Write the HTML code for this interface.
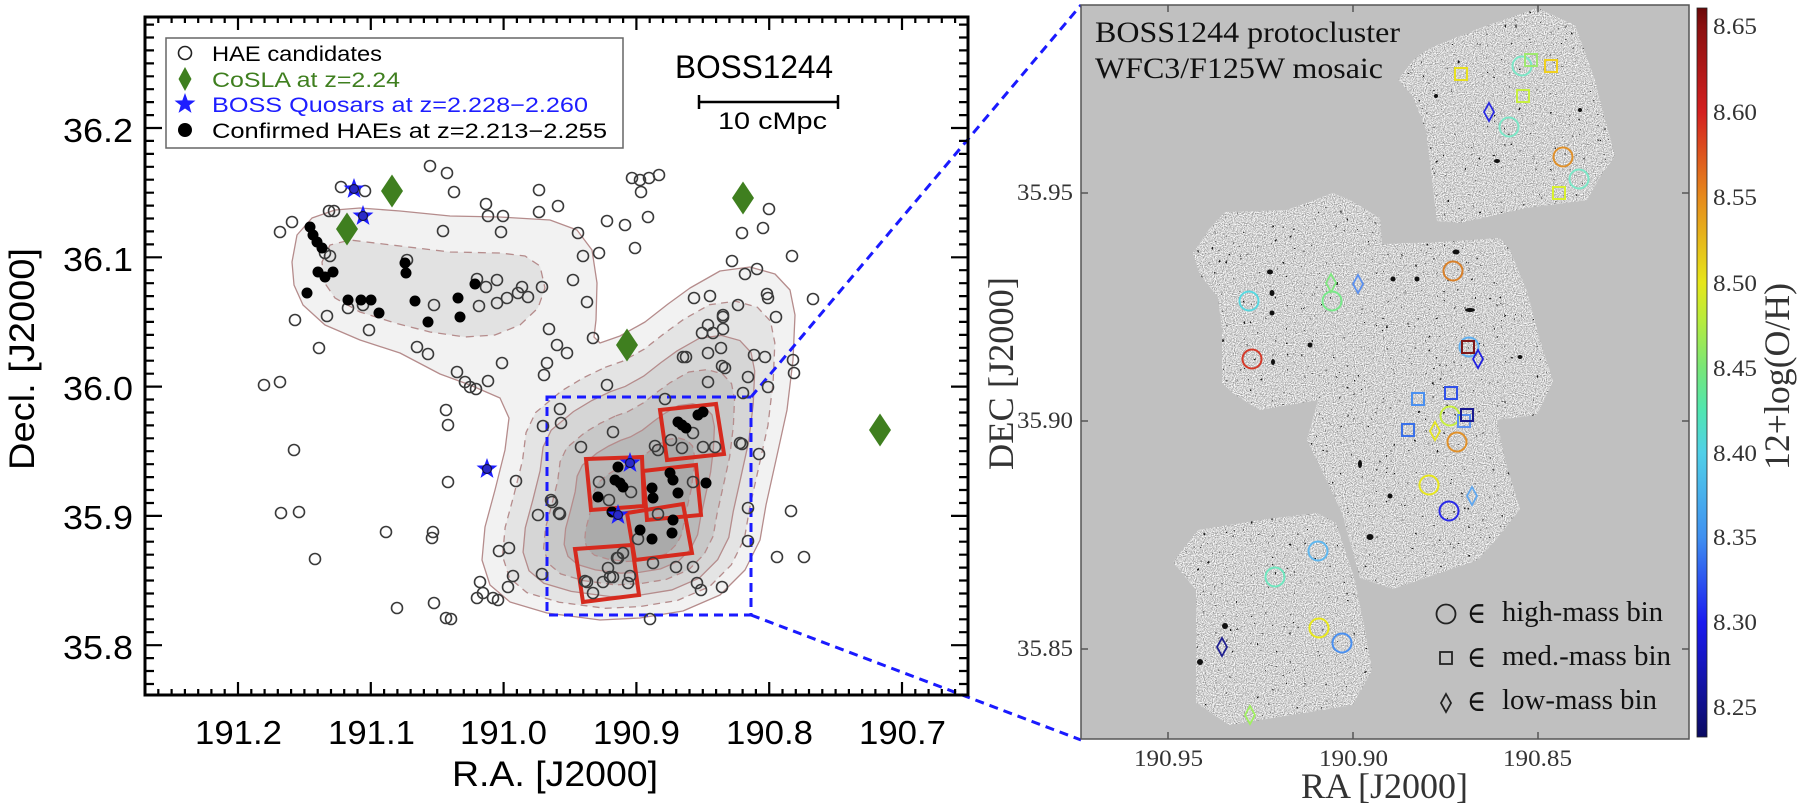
<!DOCTYPE html>
<html><head><meta charset="utf-8"><style>html,body{margin:0;padding:0;background:#fff}svg{display:block}</style></head>
<body>
<svg width="1800" height="811" viewBox="0 0 1800 811" xmlns="http://www.w3.org/2000/svg">
<defs>
<path id="rl" d="M600,343 L620,336 L645,322 L668,304 L690,288 L720,271 L750,267 L775,274 L790,290 L795,315 L793,360 L787,410 L776,460 L766,505 L760,540 L745,570 L720,595 L683,611 L640,618 L600,620 L547,613 L510,602 L490,585 L482,560 L485,527 L495,490 L505,450 L509,418 L520,395 L550,370 L575,355 Z"/>
<path id="star" d="M0,-11 L2.65,-3.64 L10.46,-3.4 L4.28,1.39 L6.47,8.9 L0,4.5 L-6.47,8.9 L-4.28,1.39 L-10.46,-3.4 L-2.65,-3.64Z"/>
<path id="gd" d="M0,-16.5 L11,0 L0,16.5 L-11,0Z"/>
<path id="bt" d="M158.3 695v-6M171.6 695v-6M184.9 695v-6M198.2 695v-6M211.4 695v-6M224.7 695v-6M238 695v-13M251.3 695v-6M264.6 695v-6M277.8 695v-6M291.1 695v-6M304.4 695v-6M317.7 695v-6M331 695v-6M344.2 695v-6M357.5 695v-6M370.8 695v-13M384.1 695v-6M397.4 695v-6M410.6 695v-6M423.9 695v-6M437.2 695v-6M450.5 695v-6M463.8 695v-6M477 695v-6M490.3 695v-6M503.6 695v-13M516.9 695v-6M530.2 695v-6M543.4 695v-6M556.7 695v-6M570 695v-6M583.3 695v-6M596.6 695v-6M609.8 695v-6M623.1 695v-6M636.4 695v-13M649.7 695v-6M663 695v-6M676.2 695v-6M689.5 695v-6M702.8 695v-6M716.1 695v-6M729.4 695v-6M742.6 695v-6M755.9 695v-6M769.2 695v-13M782.5 695v-6M795.8 695v-6M809 695v-6M822.3 695v-6M835.6 695v-6M848.9 695v-6M862.2 695v-6M875.4 695v-6M888.7 695v-6M902 695v-13M915.3 695v-6M928.6 695v-6M941.8 695v-6M955.1 695v-6"/>
<path id="lt" d="M145 24.6h9M145 37.5h9M145 50.4h9M145 63.4h9M145 76.3h9M145 89.2h9M145 102.1h9M145 115.1h9M145 128h17M145 140.9h9M145 153.9h9M145 166.8h9M145 179.7h9M145 192.7h9M145 205.6h9M145 218.5h9M145 231.4h9M145 244.4h9M145 257.3h17M145 270.2h9M145 283.2h9M145 296.1h9M145 309h9M145 321.9h9M145 334.9h9M145 347.8h9M145 360.7h9M145 373.7h9M145 386.6h17M145 399.5h9M145 412.5h9M145 425.4h9M145 438.3h9M145 451.2h9M145 464.2h9M145 477.1h9M145 490h9M145 503h9M145 515.9h17M145 528.8h9M145 541.7h9M145 554.7h9M145 567.6h9M145 580.5h9M145 593.5h9M145 606.4h9M145 619.3h9M145 632.2h9M145 645.2h17M145 658.1h9M145 671h9M145 684h9"/>
<linearGradient id="cb" x1="0" y1="0" x2="0" y2="1">
<stop offset="0" stop-color="#6a0808"/>
<stop offset="0.025" stop-color="#8a1010"/>
<stop offset="0.143" stop-color="#d42020"/>
<stop offset="0.259" stop-color="#e68a1c"/>
<stop offset="0.377" stop-color="#e6e61a"/>
<stop offset="0.428" stop-color="#b8ec3c"/>
<stop offset="0.494" stop-color="#78e678"/>
<stop offset="0.552" stop-color="#50e6b0"/>
<stop offset="0.610" stop-color="#50d0e8"/>
<stop offset="0.726" stop-color="#4090f0"/>
<stop offset="0.843" stop-color="#1a1aef"/>
<stop offset="0.959" stop-color="#10108a"/>
<stop offset="1" stop-color="#0a0a60"/>
</linearGradient>
<clipPath id="tiles">
<polygon points="1398,80 1415,58 1430,48 1475,30 1537,8 1575,25 1595,80 1608,130 1615,156 1600,177 1587,200 1527,208 1460,223 1437,221 1432,180 1426,130 1412,95"/>
<polygon points="1193,253 1210,228 1225,212 1287,210 1333,193 1350,200 1380,218 1382,244 1440,242 1500,238 1510,250 1527,291 1540,340 1553,381 1537,415 1497,420 1505,460 1520,509 1500,535 1478,560 1393,589 1360,578 1342,513 1307,440 1318,400 1260,410 1235,395 1222,383 1222,330 1218,297 1200,275"/>
<polygon points="1173,562 1198,530 1260,520 1317,513 1336,523 1355,580 1365,630 1372,670 1353,705 1229,725 1196,703 1196,590"/>
</clipPath>
<filter id="mos" filterUnits="userSpaceOnUse" x="1160" y="0" width="470" height="740" color-interpolation-filters="sRGB">
<feTurbulence type="fractalNoise" baseFrequency="0.9" numOctaves="1" seed="2" result="n1"/>
<feColorMatrix in="n1" type="matrix" values="1.0 0 0 0 0.32  1.0 0 0 0 0.32  1.0 0 0 0 0.32  0 0 0 0 1" result="g"/>
<feTurbulence type="fractalNoise" baseFrequency="0.28" numOctaves="2" seed="9" result="n2"/>
<feColorMatrix in="n2" type="matrix" values="0 0 0 0 0.1  0 0 0 0 0.1  0 0 0 0 0.1  35 0 0 0 -26.6" result="spots"/>
<feComposite in="spots" in2="g" operator="over"/>
</filter>
</defs>

<rect width="1800" height="811" fill="#fff"/>

<!-- ===== LEFT PANEL ===== -->
<path d="M292,262 L297,235 L312,218 L335,210 L360,208 L400,211 L450,216 L500,217 L550,220 L577,230 L592,250 L597,283 L596,320 L594,337 L600,343 L620,336 L645,322 L668,304 L690,288 L720,271 L750,267 L775,274 L790,290 L795,315 L793,360 L787,410 L776,460 L766,505 L760,540 L745,570 L720,595 L683,611 L640,618 L600,620 L547,613 L510,602 L490,585 L482,560 L485,527 L495,490 L505,450 L509,418 L500,398 L470,385 L440,374 L400,353 L360,340 L325,325 L303,305 L294,285 Z" fill="#f2f2f2" stroke="#b58c8c" stroke-width="1.3" stroke-linejoin="round"/>
<path d="M322,262 L330,245 L350,240 L400,246 L450,252 L500,253 L525,256 L540,266 L545,288 L538,308 L520,325 L495,335 L465,337 L430,332 L395,323 L360,312 L335,298 L324,282 Z" fill="#e2e2e2" stroke="#b58c8c" stroke-width="1.3" stroke-dasharray="8 6"/>
<use href="#rl" transform="translate(640 530) scale(0.87) translate(-640 -530)" fill="#e4e4e4" stroke="#b58c8c" stroke-width="1.5" stroke-dasharray="8 6"/>
<use href="#rl" transform="translate(640 530) scale(0.74) translate(-640 -530)" fill="#d6d6d6" stroke="#b58c8c" stroke-width="1.76"/>
<use href="#rl" transform="translate(640 530) scale(0.61) translate(-640 -530)" fill="#c8c8c8" stroke="#b58c8c" stroke-width="2.13" stroke-dasharray="11.5 8.2"/>
<use href="#rl" transform="translate(640 530) scale(0.48) translate(-640 -530)" fill="#b9b9b9" stroke="#b58c8c" stroke-width="2.71"/>
<use href="#rl" transform="translate(640 530) scale(0.35) translate(-640 -530)" fill="#aaaaaa" stroke="#b58c8c" stroke-width="3.7" stroke-dasharray="20 14"/>

<g fill="none" stroke="#1a1aff" stroke-width="3" stroke-dasharray="9 6">
<rect x="547" y="397" width="204" height="218"/>
<path d="M751,397 L1081,5"/>
<path d="M751,615 L1081,740"/>
</g>

<g fill="none" stroke="#d62a1e" stroke-width="4">
<polygon points="660,410 716,404 724,454 667,460"/>
<polygon points="586,459 642,457 644,506 591,510"/>
<polygon points="643,471 696,465 701,515 647,520"/>
<polygon points="627,513 683,504 692,553 635,560"/>
<polygon points="575,549 632,545 639,595 583,602"/>
</g>

<g fill="none" stroke="#3a3a3a" stroke-width="1.6">
<circle cx="430" cy="166" r="5.5"/><circle cx="447" cy="173" r="5.5"/><circle cx="341" cy="187" r="5.5"/><circle cx="365" cy="191" r="5.5"/><circle cx="329" cy="211" r="5.5"/><circle cx="334" cy="211" r="5.5"/><circle cx="280" cy="232" r="5.5"/><circle cx="292" cy="222" r="5.5"/><circle cx="443" cy="231" r="5.5"/><circle cx="325" cy="253" r="5.5"/><circle cx="330" cy="256" r="5.5"/><circle cx="407" cy="260" r="5.5"/>
<circle cx="454" cy="192" r="5.5"/><circle cx="539" cy="190" r="5.5"/><circle cx="558" cy="206" r="5.5"/><circle cx="539" cy="212" r="5.5"/><circle cx="486" cy="204" r="5.5"/><circle cx="488" cy="216" r="5.5"/><circle cx="503" cy="216" r="5.5"/><circle cx="501" cy="232" r="5.5"/><circle cx="632" cy="178" r="5.5"/><circle cx="640" cy="180" r="5.5"/><circle cx="649" cy="178" r="5.5"/><circle cx="659" cy="175" r="5.5"/><circle cx="641" cy="192" r="5.5"/><circle cx="607" cy="221" r="5.5"/><circle cx="625" cy="225" r="5.5"/><circle cx="648" cy="217" r="5.5"/><circle cx="578" cy="233" r="5.5"/><circle cx="583" cy="256" r="5.5"/><circle cx="599" cy="253" r="5.5"/><circle cx="635" cy="248" r="5.5"/><circle cx="769" cy="209" r="5.5"/><circle cx="742" cy="233" r="5.5"/><circle cx="763" cy="228" r="5.5"/><circle cx="792" cy="256" r="5.5"/><circle cx="732" cy="261" r="5.5"/><circle cx="745" cy="274" r="5.5"/><circle cx="757" cy="269" r="5.5"/><circle cx="573" cy="280" r="5.5"/><circle cx="587" cy="302" r="5.5"/><circle cx="694" cy="298" r="5.5"/><circle cx="710" cy="296" r="5.5"/><circle cx="738" cy="305" r="5.5"/><circle cx="767" cy="294" r="5.5"/><circle cx="768" cy="298" r="5.5"/><circle cx="813" cy="299" r="5.5"/><circle cx="723" cy="315" r="5.5"/><circle cx="776" cy="317" r="5.5"/><circle cx="477" cy="279" r="5.5"/><circle cx="486" cy="287" r="5.5"/><circle cx="497" cy="280" r="5.5"/><circle cx="542" cy="287" r="5.5"/><circle cx="522" cy="287" r="5.5"/><circle cx="518" cy="293" r="5.5"/><circle cx="528" cy="297" r="5.5"/><circle cx="507" cy="298" r="5.5"/><circle cx="497" cy="303" r="5.5"/><circle cx="479" cy="306" r="5.5"/><circle cx="434" cy="305" r="5.5"/>
<circle cx="348" cy="308" r="5.5"/><circle cx="363" cy="305" r="5.5"/><circle cx="295" cy="320" r="5.5"/><circle cx="327" cy="316" r="5.5"/><circle cx="369" cy="330" r="5.5"/><circle cx="319" cy="348" r="5.5"/><circle cx="417" cy="347" r="5.5"/><circle cx="428" cy="354" r="5.5"/><circle cx="264" cy="385" r="5.5"/><circle cx="280" cy="382" r="5.5"/><circle cx="446" cy="410" r="5.5"/><circle cx="448" cy="425" r="5.5"/><circle cx="294" cy="450" r="5.5"/><circle cx="448" cy="482" r="5.5"/><circle cx="281" cy="513" r="5.5"/><circle cx="299" cy="512" r="5.5"/><circle cx="386" cy="532" r="5.5"/><circle cx="433" cy="532" r="5.5"/><circle cx="432" cy="538" r="5.5"/><circle cx="315" cy="559" r="5.5"/><circle cx="397" cy="608" r="5.5"/><circle cx="434" cy="603" r="5.5"/><circle cx="446" cy="618" r="5.5"/>
<circle cx="549" cy="329" r="5.5"/><circle cx="557" cy="345" r="5.5"/><circle cx="567" cy="353" r="5.5"/><circle cx="547" cy="363" r="5.5"/><circle cx="544" cy="375" r="5.5"/><circle cx="593" cy="338" r="5.5"/><circle cx="502" cy="363" r="5.5"/><circle cx="488" cy="381" r="5.5"/><circle cx="457" cy="372" r="5.5"/><circle cx="465" cy="382" r="5.5"/><circle cx="470" cy="387" r="5.5"/><circle cx="476" cy="389" r="5.5"/><circle cx="607" cy="385" r="5.5"/><circle cx="702" cy="333" r="5.5"/><circle cx="708" cy="325" r="5.5"/><circle cx="713" cy="333" r="5.5"/><circle cx="723" cy="317" r="5.5"/><circle cx="723" cy="329" r="5.5"/><circle cx="683" cy="357" r="5.5"/><circle cx="686" cy="357" r="5.5"/><circle cx="708" cy="353" r="5.5"/><circle cx="721" cy="348" r="5.5"/><circle cx="722" cy="366" r="5.5"/><circle cx="725" cy="368" r="5.5"/><circle cx="754" cy="355" r="5.5"/><circle cx="765" cy="357" r="5.5"/><circle cx="793" cy="360" r="5.5"/><circle cx="794" cy="373" r="5.5"/><circle cx="708" cy="382" r="5.5"/><circle cx="748" cy="377" r="5.5"/><circle cx="768" cy="387" r="5.5"/><circle cx="743" cy="393" r="5.5"/><circle cx="665" cy="399" r="5.5"/><circle cx="560" cy="409" r="5.5"/><circle cx="561" cy="423" r="5.5"/><circle cx="543" cy="426" r="5.5"/><circle cx="613" cy="432" r="5.5"/><circle cx="581" cy="447" r="5.5"/><circle cx="655" cy="446" r="5.5"/><circle cx="658" cy="450" r="5.5"/><circle cx="693" cy="433" r="5.5"/><circle cx="671" cy="440" r="5.5"/><circle cx="682" cy="448" r="5.5"/><circle cx="703" cy="447" r="5.5"/><circle cx="715" cy="447" r="5.5"/><circle cx="740" cy="443" r="5.5"/><circle cx="742" cy="444" r="5.5"/><circle cx="759" cy="454" r="5.5"/><circle cx="516" cy="481" r="5.5"/><circle cx="599" cy="482" r="5.5"/><circle cx="693" cy="482" r="5.5"/><circle cx="551" cy="500" r="5.5"/><circle cx="552" cy="502" r="5.5"/><circle cx="559" cy="513" r="5.5"/><circle cx="538" cy="515" r="5.5"/><circle cx="609" cy="500" r="5.5"/><circle cx="631" cy="492" r="5.5"/><circle cx="748" cy="508" r="5.5"/><circle cx="791" cy="511" r="5.5"/><circle cx="499" cy="551" r="5.5"/><circle cx="509" cy="548" r="5.5"/><circle cx="618" cy="558" r="5.5"/><circle cx="653" cy="563" r="5.5"/><circle cx="676" cy="567" r="5.5"/><circle cx="693" cy="567" r="5.5"/><circle cx="748" cy="541" r="5.5"/><circle cx="777" cy="557" r="5.5"/><circle cx="804" cy="557" r="5.5"/><circle cx="542" cy="574" r="5.5"/><circle cx="608" cy="568" r="5.5"/><circle cx="610" cy="577" r="5.5"/><circle cx="603" cy="582" r="5.5"/><circle cx="613" cy="577" r="5.5"/><circle cx="630" cy="576" r="5.5"/><circle cx="628" cy="583" r="5.5"/><circle cx="587" cy="582" r="5.5"/><circle cx="593" cy="593" r="5.5"/><circle cx="513" cy="576" r="5.5"/><circle cx="508" cy="587" r="5.5"/><circle cx="480" cy="582" r="5.5"/><circle cx="483" cy="593" r="5.5"/><circle cx="493" cy="598" r="5.5"/><circle cx="498" cy="600" r="5.5"/><circle cx="477" cy="598" r="5.5"/><circle cx="697" cy="583" r="5.5"/><circle cx="701" cy="590" r="5.5"/><circle cx="722" cy="587" r="5.5"/>
<circle cx="560" cy="514" r="5.5"/><circle cx="451" cy="619" r="5.5"/><circle cx="650" cy="619" r="5.5"/><circle cx="585" cy="581" r="5.5"/><circle cx="617" cy="558" r="5.5"/><circle cx="638" cy="539" r="5.5"/><circle cx="658" cy="514" r="5.5"/><circle cx="623" cy="553" r="5.5"/>
</g>

<g fill="#000">
<circle cx="310" cy="227" r="5.5"/><circle cx="313" cy="235" r="5.5"/><circle cx="317" cy="242" r="5.5"/><circle cx="322" cy="248" r="5.5"/><circle cx="318" cy="272" r="5.5"/><circle cx="333" cy="272" r="5.5"/><circle cx="325" cy="277" r="5.5"/><circle cx="307" cy="293" r="5.5"/><circle cx="405" cy="263" r="5.5"/><circle cx="406" cy="273" r="5.5"/><circle cx="348" cy="300" r="5.5"/><circle cx="361" cy="300" r="5.5"/><circle cx="371" cy="300" r="5.5"/><circle cx="415" cy="301" r="5.5"/><circle cx="379" cy="313" r="5.5"/><circle cx="428" cy="322" r="5.5"/><circle cx="475" cy="284" r="5.5"/><circle cx="458" cy="298" r="5.5"/><circle cx="460" cy="317" r="5.5"/>
<circle cx="698" cy="415" r="5.5"/><circle cx="703" cy="412" r="5.5"/><circle cx="678" cy="422" r="5.5"/><circle cx="682" cy="425" r="5.5"/><circle cx="686" cy="428" r="5.5"/><circle cx="618" cy="467" r="5.5"/><circle cx="615" cy="480" r="5.5"/><circle cx="620" cy="483" r="5.5"/><circle cx="623" cy="487" r="5.5"/><circle cx="598" cy="497" r="5.5"/><circle cx="670" cy="473" r="5.5"/><circle cx="673" cy="480" r="5.5"/><circle cx="652" cy="488" r="5.5"/><circle cx="653" cy="498" r="5.5"/><circle cx="678" cy="493" r="5.5"/><circle cx="706" cy="483" r="5.5"/><circle cx="673" cy="520" r="5.5"/><circle cx="640" cy="530" r="5.5"/><circle cx="652" cy="539" r="5.5"/><circle cx="672" cy="533" r="5.5"/><circle cx="612" cy="512" r="5.5"/>
</g>

<g fill="#3f7f1f">
<use href="#gd" x="392" y="191"/><use href="#gd" x="347" y="229"/><use href="#gd" x="743" y="198"/><use href="#gd" x="627" y="345"/><use href="#gd" x="880" y="430"/>
</g>
<g>
<use href="#star" x="354" y="189" fill="#1e1eff"/><circle cx="354" cy="189" r="4.5" fill="#2a2ac8" stroke="#10104a" stroke-width="1.2"/>
<use href="#star" x="363" y="216" fill="#1e1eff"/><circle cx="363" cy="216" r="4.5" fill="#2a2ac8" stroke="#10104a" stroke-width="1.2"/>
<use href="#star" x="487" y="469" fill="#1e1eff"/><circle cx="487" cy="469" r="4.5" fill="#2a2ac8" stroke="#10104a" stroke-width="1.2"/>
<use href="#star" x="630" y="463" fill="#1e1eff"/><circle cx="630" cy="463" r="4.5" fill="#2a2ac8" stroke="#10104a" stroke-width="1.2"/>
<use href="#star" x="618" y="515" fill="#1e1eff"/><circle cx="618" cy="515" r="4.5" fill="#2a2ac8" stroke="#10104a" stroke-width="1.2"/>
</g>

<rect x="166" y="38" width="457" height="110" fill="#fff" stroke="#666" stroke-width="1.5"/>
<circle cx="185" cy="53" r="6.5" fill="none" stroke="#222" stroke-width="1.6"/>
<path d="M185,67 L191.5,79 L185,91 L178.5,79Z" fill="#3f7f1f"/>
<use href="#star" x="185" y="104" fill="#1e1eff"/>
<circle cx="185" cy="130" r="7" fill="#000"/>
<g font-family="Liberation Sans, sans-serif" font-size="21">
<text x="212" y="61" textLength="170" lengthAdjust="spacingAndGlyphs" fill="#000">HAE candidates</text>
<text x="212" y="87" textLength="188" lengthAdjust="spacingAndGlyphs" fill="#3f7f1f">CoSLA at z=2.24</text>
<text x="212" y="112" textLength="376" lengthAdjust="spacingAndGlyphs" fill="#1e1eff">BOSS Quosars at z=2.228−2.260</text>
<text x="212" y="138" textLength="395" lengthAdjust="spacingAndGlyphs" fill="#000">Confirmed HAEs at z=2.213−2.255</text>
</g>

<g font-family="Liberation Sans, sans-serif" fill="#000">
<text x="675" y="78" font-size="32" textLength="158" lengthAdjust="spacingAndGlyphs">BOSS1244</text>
<text x="718" y="129" font-size="24" textLength="109" lengthAdjust="spacingAndGlyphs">10 cMpc</text>
</g>
<path d="M699,102 H838 M699,95 V109 M838,95 V109" stroke="#000" stroke-width="2.5" fill="none"/>

<g stroke="#000" fill="none">
<rect x="145" y="17" width="823" height="678" stroke-width="3"/>
<g stroke-width="2.2">
<use href="#bt"/>
<use href="#bt" transform="matrix(1 0 0 -1 0 712)"/>
<use href="#lt"/>
<use href="#lt" transform="matrix(-1 0 0 1 1113 0)"/>
</g>
</g>

<g font-family="Liberation Sans, sans-serif" font-size="33" fill="#000">
<text x="63" y="142" textLength="70" lengthAdjust="spacingAndGlyphs">36.2</text>
<text x="63" y="271" textLength="70" lengthAdjust="spacingAndGlyphs">36.1</text>
<text x="63" y="400" textLength="70" lengthAdjust="spacingAndGlyphs">36.0</text>
<text x="63" y="529" textLength="70" lengthAdjust="spacingAndGlyphs">35.9</text>
<text x="63" y="659" textLength="70" lengthAdjust="spacingAndGlyphs">35.8</text>
<text x="195" y="744" textLength="87" lengthAdjust="spacingAndGlyphs">191.2</text>
<text x="328" y="744" textLength="87" lengthAdjust="spacingAndGlyphs">191.1</text>
<text x="460" y="744" textLength="87" lengthAdjust="spacingAndGlyphs">191.0</text>
<text x="593" y="744" textLength="87" lengthAdjust="spacingAndGlyphs">190.9</text>
<text x="726" y="744" textLength="87" lengthAdjust="spacingAndGlyphs">190.8</text>
<text x="859" y="744" textLength="87" lengthAdjust="spacingAndGlyphs">190.7</text>
<text x="452" y="786" font-size="35" textLength="206" lengthAdjust="spacingAndGlyphs">R.A. [J2000]</text>
<text transform="translate(34 470) rotate(-90)" font-size="35" textLength="222" lengthAdjust="spacingAndGlyphs">Decl. [J2000]</text>
</g>

<!-- ===== RIGHT PANEL ===== -->
<rect x="1081" y="5" width="608" height="734" fill="#c0c0c0"/>
<rect x="1160" y="0" width="470" height="740" fill="#d0d0d0" filter="url(#mos)" clip-path="url(#tiles)"/>
<g fill="#111" clip-path="url(#tiles)">
<ellipse cx="1270" cy="272" rx="3" ry="2.5"/><ellipse cx="1272" cy="293" rx="2.5" ry="3"/><ellipse cx="1272" cy="313" rx="2.5" ry="2.5"/><ellipse cx="1273" cy="362" rx="2" ry="3"/>
<ellipse cx="1456" cy="252" rx="3.5" ry="2.5"/><ellipse cx="1470" cy="310" rx="5" ry="2"/><ellipse cx="1393" cy="279" rx="2.5" ry="2.5"/><ellipse cx="1417" cy="279" rx="2.5" ry="2.5"/>
<ellipse cx="1370" cy="537" rx="3.5" ry="3"/><ellipse cx="1390" cy="496" rx="2.5" ry="2.5"/><ellipse cx="1360" cy="464" rx="2" ry="4"/><ellipse cx="1200" cy="662" rx="3" ry="3"/><ellipse cx="1225" cy="626" rx="3" ry="3"/>
<ellipse cx="1436" cy="96" rx="2" ry="2"/><ellipse cx="1497" cy="161" rx="3" ry="2"/><ellipse cx="1580" cy="110" rx="2" ry="2"/><ellipse cx="1310" cy="345" rx="2.5" ry="2.5"/><ellipse cx="1520" cy="357" rx="2.5" ry="2"/>
</g>

<g fill="none" stroke-width="2">
<circle cx="1522" cy="66" r="9.5" stroke="#7de8c8"/>
<circle cx="1509" cy="127" r="9.5" stroke="#7de8c8"/>
<circle cx="1563" cy="157" r="9.5" stroke="#e0902a"/>
<circle cx="1579" cy="179" r="9.5" stroke="#7de8c8"/>
<circle cx="1453" cy="271" r="9.5" stroke="#d8802a"/>
<circle cx="1249" cy="301" r="9.5" stroke="#5ad8e0"/>
<circle cx="1332" cy="301" r="9.5" stroke="#78e88a"/>
<circle cx="1252" cy="359" r="9.5" stroke="#d43a2a"/>
<circle cx="1469" cy="347" r="9.5" stroke="#60b0f0"/>
<circle cx="1450" cy="416" r="9.5" stroke="#c8f040"/>
<circle cx="1457" cy="442" r="9.5" stroke="#e0902a"/>
<circle cx="1429" cy="485" r="9.5" stroke="#e8e81e"/>
<circle cx="1449" cy="511" r="9.5" stroke="#2a2ae8"/>
<circle cx="1342" cy="643" r="9.5" stroke="#4a90f0"/>
<circle cx="1319" cy="628" r="9.5" stroke="#e8e81e"/>
<circle cx="1318" cy="551" r="9.5" stroke="#60b8f0"/>
<circle cx="1275" cy="577" r="9.5" stroke="#70e8c0"/>
<rect x="1455" y="68" width="12" height="12" stroke="#e8e020"/>
<rect x="1525" y="54" width="12" height="12" stroke="#a0e870"/>
<rect x="1545" y="60" width="12" height="12" stroke="#f0d020"/>
<rect x="1517" y="90" width="12" height="12" stroke="#c8f040"/>
<rect x="1553" y="187" width="12" height="12" stroke="#d8f030"/>
<rect x="1462" y="341" width="12" height="12" stroke="#801818"/>
<rect x="1412" y="393" width="12" height="12" stroke="#4a90f0"/>
<rect x="1445" y="387" width="12" height="12" stroke="#3050e8"/>
<rect x="1458" y="415" width="12" height="12" stroke="#5a90f0"/>
<rect x="1461" y="409" width="12" height="12" stroke="#1a1a90"/>
<rect x="1402" y="424" width="12" height="12" stroke="#3a70e8"/>
<g stroke-width="1.8">
<path d="M1489,103 L1494,112 L1489,121 L1484,112Z" stroke="#2828e0"/>
<path d="M1358,275 L1363,284 L1358,293 L1353,284Z" stroke="#5a90f0"/>
<path d="M1331,274 L1336,283 L1331,292 L1326,283Z" stroke="#80e880"/>
<path d="M1478,350 L1483,359 L1478,368 L1473,359Z" stroke="#2020e0"/>
<path d="M1435,422 L1440,431 L1435,440 L1430,431Z" stroke="#e8e820"/>
<path d="M1472,487 L1477,496 L1472,505 L1467,496Z" stroke="#60a8f0"/>
<path d="M1222,638 L1227,647 L1222,656 L1217,647Z" stroke="#202090"/>
<path d="M1250,706 L1255,715 L1250,724 L1245,715Z" stroke="#a0f060"/>
</g>
</g>

<g fill="none" stroke="#222" stroke-width="1.8">
<circle cx="1446" cy="614" r="9.5"/>
<rect x="1440" y="652" width="12" height="12"/>
<path d="M1446,694 L1451,703 L1446,712 L1441,703Z"/>
</g>
<g font-family="Liberation Serif, DejaVu Serif, serif" font-size="28" fill="#111">
<text x="1467" y="623" font-family="DejaVu Serif, serif" font-size="30" textLength="19" lengthAdjust="spacingAndGlyphs">∈</text>
<text x="1467" y="667" font-family="DejaVu Serif, serif" font-size="30" textLength="19" lengthAdjust="spacingAndGlyphs">∈</text>
<text x="1467" y="711" font-family="DejaVu Serif, serif" font-size="30" textLength="19" lengthAdjust="spacingAndGlyphs">∈</text>
<text x="1502" y="621" textLength="161" lengthAdjust="spacingAndGlyphs">high-mass bin</text>
<text x="1502" y="665" textLength="169" lengthAdjust="spacingAndGlyphs">med.-mass bin</text>
<text x="1502" y="709" textLength="155" lengthAdjust="spacingAndGlyphs">low-mass bin</text>
</g>

<rect x="1081" y="5" width="608" height="734" fill="none" stroke="#555" stroke-width="1.5"/>
<path d="M1081,193h7M1081,421h7M1081,649h7M1689,193h-7M1689,421h-7M1689,649h-7M1168,739v-7M1353,739v-7M1538,739v-7M1168,5v7M1353,5v7M1538,5v7" stroke="#555" stroke-width="1.5"/>

<g font-family="Liberation Serif, serif" fill="#111">
<text x="1095" y="42" font-size="30" textLength="305" lengthAdjust="spacingAndGlyphs">BOSS1244 protocluster</text>
<text x="1095" y="78" font-size="30" textLength="288" lengthAdjust="spacingAndGlyphs">WFC3/F125W mosaic</text>
</g>
<g font-family="Liberation Serif, serif" fill="#333" font-size="23">
<text x="1017" y="200" textLength="56" lengthAdjust="spacingAndGlyphs">35.95</text>
<text x="1017" y="428" textLength="56" lengthAdjust="spacingAndGlyphs">35.90</text>
<text x="1017" y="656" textLength="56" lengthAdjust="spacingAndGlyphs">35.85</text>
<text x="1134" y="766" textLength="69" lengthAdjust="spacingAndGlyphs">190.95</text>
<text x="1319" y="766" textLength="69" lengthAdjust="spacingAndGlyphs">190.90</text>
<text x="1503" y="766" textLength="69" lengthAdjust="spacingAndGlyphs">190.85</text>
<text x="1301" y="798" font-size="36" textLength="167" lengthAdjust="spacingAndGlyphs">RA [J2000]</text>
<text transform="translate(1013 470) rotate(-90)" font-size="36" textLength="193" lengthAdjust="spacingAndGlyphs">DEC [J2000]</text>
</g>

<rect x="1697" y="8" width="10" height="729" fill="url(#cb)" stroke="#222" stroke-width="0.8"/>
<g font-family="Liberation Serif, serif" fill="#333" font-size="23">
<text x="1713" y="34" textLength="44" lengthAdjust="spacingAndGlyphs">8.65</text>
<text x="1713" y="120" textLength="44" lengthAdjust="spacingAndGlyphs">8.60</text>
<text x="1713" y="205" textLength="44" lengthAdjust="spacingAndGlyphs">8.55</text>
<text x="1713" y="291" textLength="44" lengthAdjust="spacingAndGlyphs">8.50</text>
<text x="1713" y="376" textLength="44" lengthAdjust="spacingAndGlyphs">8.45</text>
<text x="1713" y="461" textLength="44" lengthAdjust="spacingAndGlyphs">8.40</text>
<text x="1713" y="545" textLength="44" lengthAdjust="spacingAndGlyphs">8.35</text>
<text x="1713" y="630" textLength="44" lengthAdjust="spacingAndGlyphs">8.30</text>
<text x="1713" y="715" textLength="44" lengthAdjust="spacingAndGlyphs">8.25</text>
<text transform="translate(1789 470) rotate(-90)" font-size="36" textLength="187" lengthAdjust="spacingAndGlyphs">12+log(O/H)</text>
</g>
</svg>
</body></html>
